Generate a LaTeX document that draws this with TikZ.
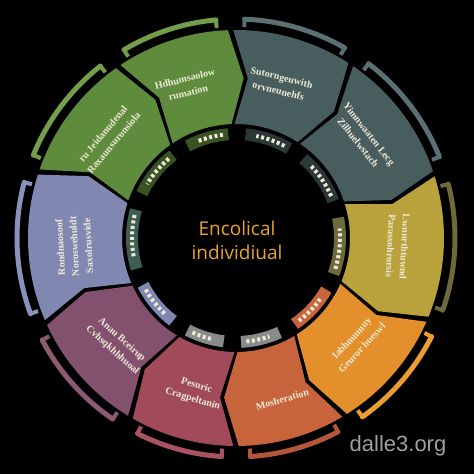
\documentclass[tikz,border=0pt]{standalone}
\usepackage{fontspec}
\setmainfont{Liberation Serif}
\newfontfamily\ctrfont{Open Sans}
\newfontfamily\wmfont{Liberation Sans}
\definecolor{greenA}{HTML}{5F8B3C}\definecolor{greenB}{HTML}{739E4B}
\definecolor{slateA}{HTML}{485D5E}\definecolor{slateB}{HTML}{5B7073}
\definecolor{oliveA}{HTML}{B9A23C}\definecolor{oliveB}{HTML}{6D6A3C}
\definecolor{orangeA}{HTML}{E3902C}\definecolor{orangeB}{HTML}{EC9C30}
\definecolor{rustA}{HTML}{C8643B}\definecolor{rustB}{HTML}{B5563A}
\definecolor{maroonA}{HTML}{A04A5A}\definecolor{maroonB}{HTML}{A85262}
\definecolor{mauveA}{HTML}{83506E}\definecolor{mauveB}{HTML}{8E5A72}
\definecolor{lavA}{HTML}{8088B2}\definecolor{lavB}{HTML}{8A92BA}
\definecolor{greyI}{HTML}{8A8A8A}\definecolor{tealI}{HTML}{3E5E52}
\definecolor{ctrcol}{HTML}{E8A52A}\definecolor{segtxt}{HTML}{EEEAD6}
\definecolor{wmcol}{HTML}{A0A0A0}
\tikzset{
  segtext/.style={text=segtxt, align=center, font=\bfseries\fontsize{10}{14}\selectfont},
  band/.style={line width=5pt, line cap=round},
  innerband/.style={line width=12pt},
  dots/.style={segtxt, line width=4pt, dash pattern=on 3pt off 2.5pt},
}
% #1 fill, #2 outer band, #3 inner band, #4 start angle (clockwise end), #5 end angle
\newcommand\ringseg[5]{%
  \fill[#1] ({#5}:208) arc[start angle=#5, end angle=#4, radius=208]
    -- ({#4-5}:160) -- ({#4}:114) arc[start angle=#4, end angle=#5, radius=114]
    -- ({#5-5}:160) -- cycle;
  \draw[#2, band] ({#5-3}:219) arc[start angle=#5-3, end angle=#4+3, radius=219];
  \draw[#2, line width=4pt] ({#4+3}:220) -- ({#4+3}:211);
  \draw[#2, line width=4pt] ({#5-3}:220) -- ({#5-3}:211);
  \draw[#3, innerband] ({#4+2}:104) arc[start angle=#4+2, end angle=#5-6, radius=104];
  \draw[dots] ({#4+5}:104) arc[start angle=#4+5, end angle=#5-12, radius=104];
}
\begin{document}
\begin{tikzpicture}[x=1pt,y=1pt]
\fill[black] (0,0) rectangle (474,474);
\useasboundingbox (0,0) rectangle (474,474);
\begin{scope}[shift={(236,236)}]
  \ringseg{lavA}{lavB}{tealI}{162.25}{203.25}
  \ringseg{greenA}{greenB}{greenA!60!black}{125.25}{160.75}
  \ringseg{greenA}{greenB}{greenA!60!black}{92.25}{123.75}
  \ringseg{slateA}{slateB}{slateA!60!black}{57.25}{90.75}
  \ringseg{slateA}{slateB}{slateA!60!black}{18.75}{55.75}
  \ringseg{oliveA}{oliveB}{oliveB}{-22.25}{17.25}
  \ringseg{orangeA}{orangeB}{rustA}{-57.75}{-23.75}
  \ringseg{rustA}{rustB}{greyI}{-89.25}{-59.25}
  \ringseg{maroonA}{maroonB}{greyI}{-119.75}{-90.75}
  \ringseg{mauveA}{mauveB}{lavA}{-155.25}{-121.25}

  \node[segtext, rotate=93] (tLav) at (183:162) {Rondnaosoof\\Noroswehuldt\\Saxolrusvide};
  \node[segtext, rotate=50] (tGL) at (142:162) {ru Jeidanudenal\\Raxaunsuronsiola};
  \node[segtext, rotate=14] (tGT) at (108:160) {Hdhumsaolow\\rumation};
  \node[segtext, rotate=-14] (tST) at (74:160) {Sutorngeuwith\\orvneunehfs};
  \node[segtext, rotate=-52] (tSR) at (38:162) {Yimnwaaten Lecg\\Zilhuelwstach};
  \node[segtext, rotate=-93] (tOl) at (-3:162) {Lwnnrthtuwnd\\Parassohrorsis};
  \node[segtext, rotate=47] (tOr) at (-41:160) {Iabhnunnuy\\Geuror hueswl};
  \node[segtext, rotate=16] (tRu) at (-74:168) {Mosheration};
  \node[segtext, rotate=-16] (tMa) at (-105:160) {Pesuric\\Cragpeltanin};
  \node[segtext, rotate=-42] (tMv) at (-138:160) {Anau Bceirup\\Cvhsqkhhhuoal};

  \node[text=ctrcol, align=center, font=\ctrfont\fontsize{19}{24}\selectfont] (ctr) at (1,-2) {Encolical\\individiual};
\end{scope}
\node[text=wmcol, font=\wmfont\fontsize{22}{26}\selectfont, anchor=center] (wm) at (398,28) {dalle3.org};
\end{tikzpicture}
\end{document}
